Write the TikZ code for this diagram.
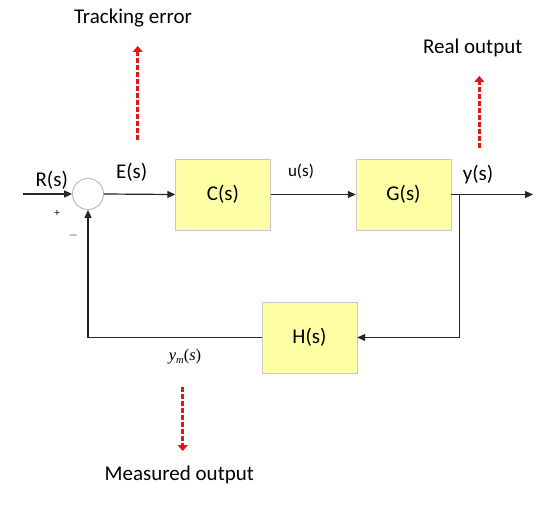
\documentclass[tikz,border=0pt]{standalone}
\usepackage{fontspec}
\setmainfont{Carlito}
\newfontfamily\serifit{Liberation Serif}
\usetikzlibrary{arrows.meta}
\definecolor{yellowbox}{RGB}{255,255,166}
\definecolor{hintred}{RGB}{230,20,20}
\begin{document}
\begin{tikzpicture}[x=1pt,y=-1pt,
  blk/.style={draw=black!22, fill=yellowbox, minimum width=95pt, minimum height=71pt, inner sep=0pt, font=\fontsize{21}{24}\selectfont},
  lbl/.style={font=\fontsize{21}{24}\selectfont, inner sep=0pt},
  sig/.style={draw=black!85, line width=1.2pt},
  arr/.style={sig, -{Triangle[length=8pt,width=7pt]}},
  hint/.style={draw=hintred, line width=3.2pt, dash pattern=on 4.5pt off 2.5pt, -{Triangle[length=6pt,width=10pt]}}]
\useasboundingbox (0,0) rectangle (553,505);
\fill[white] (0,0) rectangle (553,505);
% blocks
\node[circle, draw=black!30, line width=0.8pt, minimum size=31pt, inner sep=0pt] (sum) at (88,194) {};
\node[blk] (C) at (223,194.5) {C(s)};
\node[blk] (G) at (403.5,194.5) {G(s)};
\node[blk] (H) at (309.5,337.5) {H(s)};
\coordinate (in) at (23,194);
\coordinate (br) at (459.3,194.5);
\coordinate (out) at (533,194.5);
% signal lines
\draw[arr] (in) -- (sum.west);
\draw[arr] (sum.east) -- (C.west);
\draw[arr] (C.east) -- (G.west);
\draw[sig] (G.east) -- (br);
\draw[arr] (br) -- (out);
\draw[arr] (br) |- (H.east);
\draw[arr] (H.west) -| (sum.south);
% labels
\node[lbl] (R) at (51.7,180) {R(s)};
\node[lbl] (E) at (131.7,172) {E(s)};
\node[lbl, font=\fontsize{17}{20}\selectfont] (u) at (301,171) {u(s)};
\node[lbl] (y) at (478,175) {y(s)};
\node[inner sep=0pt, font=\fontsize{11}{12}\selectfont] (plus) at (57,213) {+};
\node[inner sep=0pt, font=\fontsize{12}{14}\selectfont] (minus) at (73.3,235) {$-$};
\node[inner sep=0pt, font=\serifit\fontsize{16.5}{18}\selectfont] (ym) at (185,357) {\textit{y}\raisebox{-3pt}{\fontsize{10.5}{11}\selectfont\itshape m}(\textit{s})};
% annotations
\node[lbl] (te) at (133,18.5) {Tracking error};
\node[lbl] (ro) at (472.7,47.5) {Real output};
\node[lbl] (mo) at (179.3,475) {Measured output};
\coordinate (te1) at (137.7,140);
\coordinate (te2) at (137.7,46);
\coordinate (ro1) at (479.3,148);
\coordinate (ro2) at (479.3,76);
\coordinate (mo1) at (182.7,387);
\coordinate (mo2) at (182.7,451);
\draw[hint] (te1) -- (te2);
\draw[hint] (ro1) -- (ro2);
\draw[hint] (mo1) -- (mo2);
\end{tikzpicture}
\end{document}
